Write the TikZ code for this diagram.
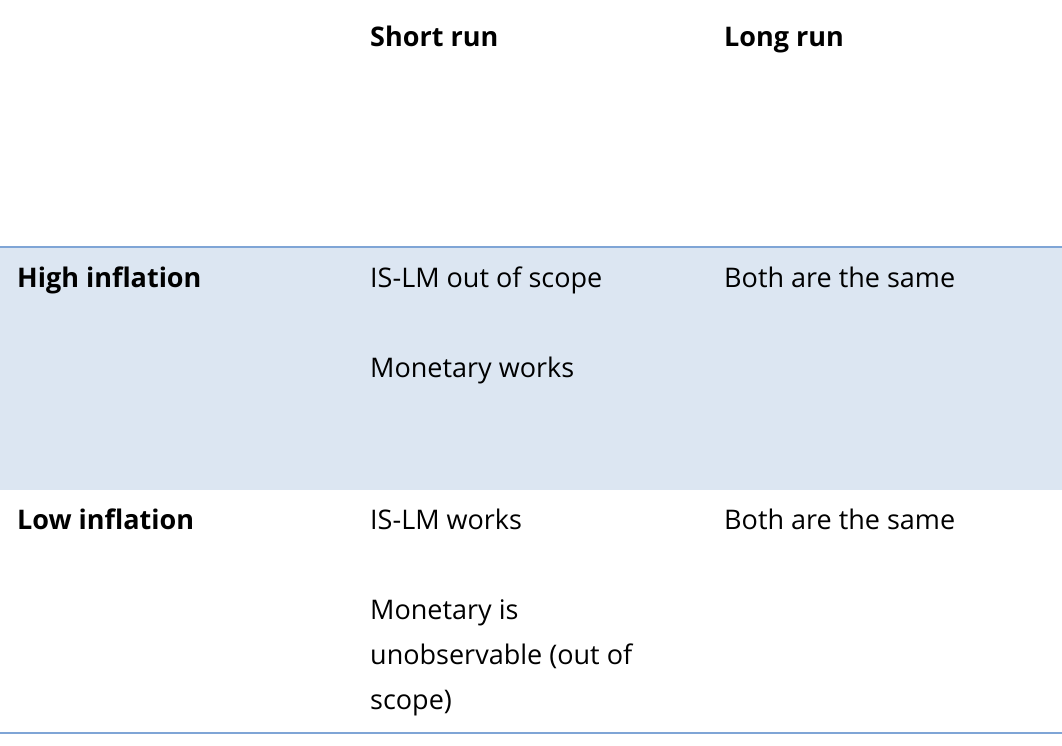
\documentclass[tikz,border=0pt]{standalone}
\usepackage{fontspec}
\setmainfont{Open Sans}[Ligatures=NoCommon]
\definecolor{band}{HTML}{DCE6F2}
\definecolor{rule}{HTML}{7FA5D6}
\begin{document}
\begin{tikzpicture}[x=1pt,y=-1pt,
  cell/.style={anchor=mid west,inner sep=0pt,font=\fontsize{27}{40}\selectfont,align=left},
  hd/.style={cell,font=\fontsize{27}{40}\selectfont\bfseries}]
\useasboundingbox (0,0) rectangle (1062,745);
\fill[band] (0,248) rectangle (1062,490);
\draw[rule,line width=1.5pt] (0,247) -- (1062,247);
\draw[rule,line width=1.5pt] (0,733) -- (1062,733);
\node[hd] (sr) at (370,44) {Short run};
\node[hd] (lr) at (724,44) {Long run};
\node[hd] (hi) at (17,285) {High inflation};
\node[cell] (a1) at (370,285) {IS-LM out of scope};
\node[cell] (a2) at (370,375) {Monetary works};
\node[cell] (b1) at (724,285) {Both are the same};
\node[hd] (lo) at (17,527) {Low inflation};
\node[cell] (c1) at (370,527) {IS-LM works};
\node[cell] (c2) at (370,617) {Monetary is};
\node[cell] (c3) at (370,662) {unobservable (out of};
\node[cell] (c4) at (370,707) {scope)};
\node[cell] (d1) at (724,527) {Both are the same};
\end{tikzpicture}
\end{document}
